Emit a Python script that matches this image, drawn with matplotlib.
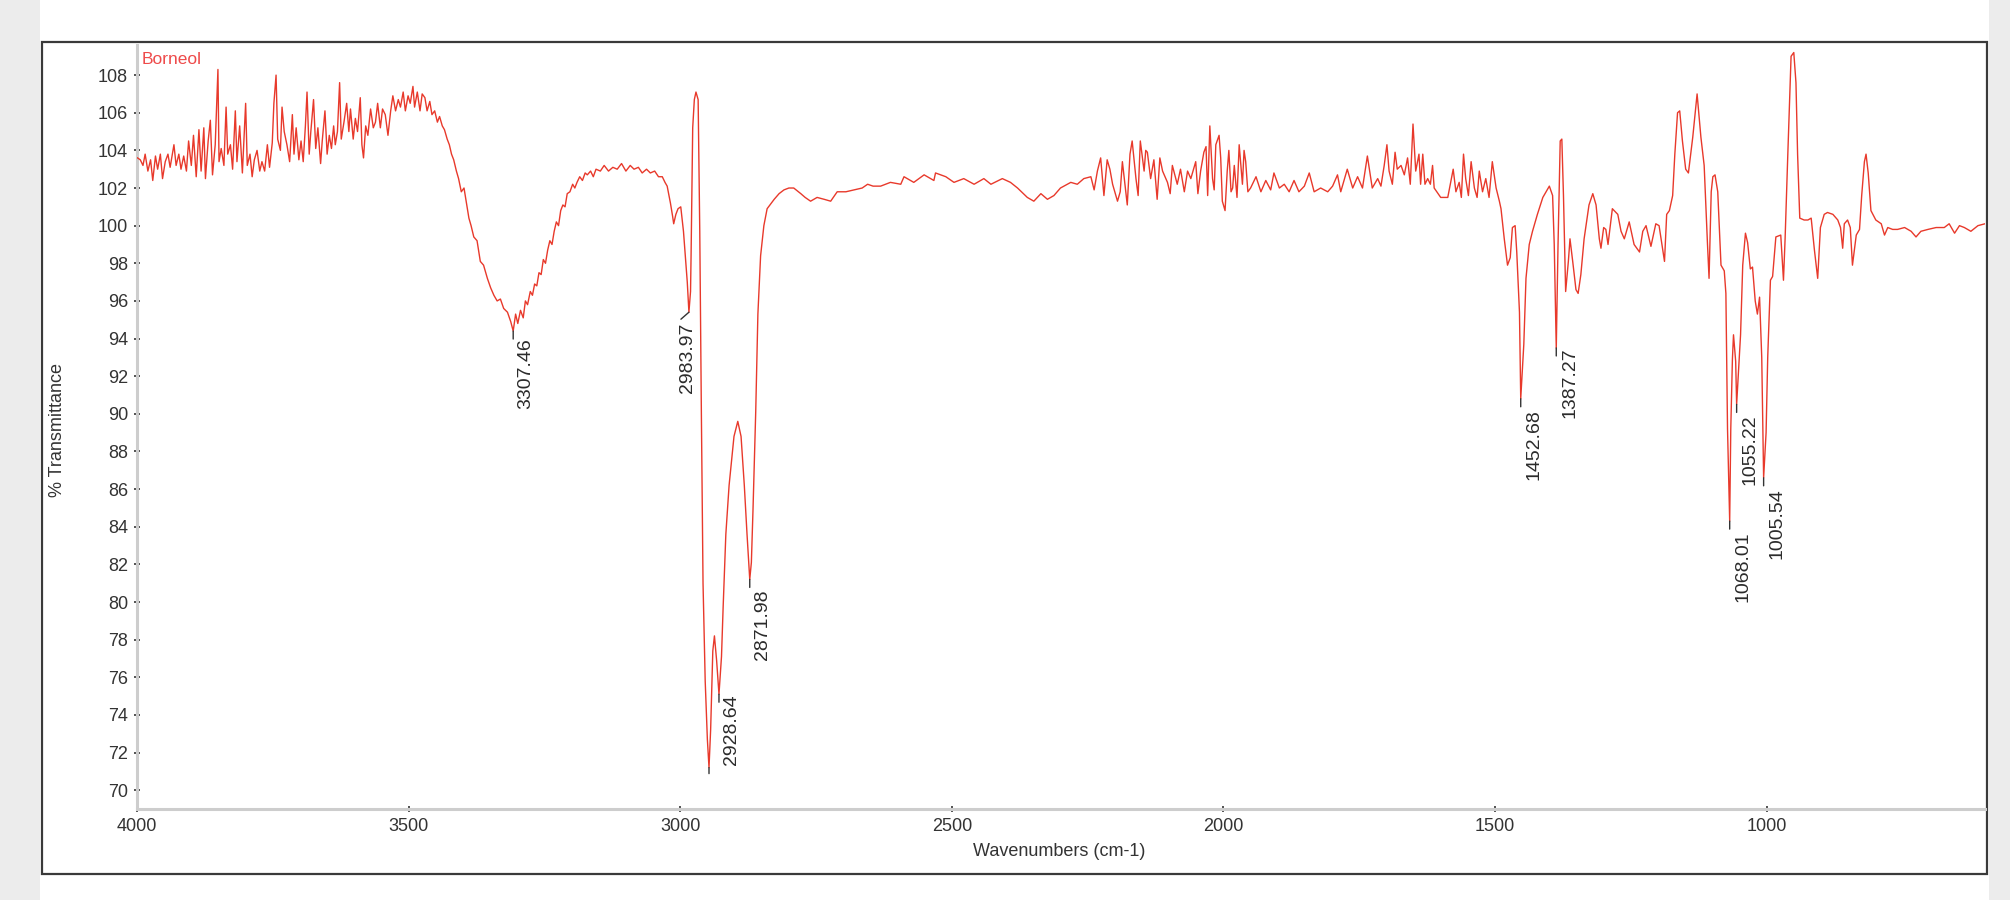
import numpy as np
import matplotlib
matplotlib.use("Agg")
import matplotlib.pyplot as plt
from matplotlib.patches import Rectangle
from matplotlib.ticker import MultipleLocator

plt.rcParams['font.family'] = ['Liberation Sans', 'DejaVu Sans']

# spectrum, split by region (wavenumber cm-1, %T)
wn_oh = [3999, 3994, 3989, 3985, 3980, 3975, 3971, 3966, 3962, 3957, 3953, 3948, 3943, 3939,
         3932, 3928, 3923, 3919, 3914, 3909, 3905, 3900, 3896, 3891, 3886, 3882, 3877, 3874,
         3869, 3865, 3861, 3856, 3851, 3849, 3845, 3840, 3836, 3833, 3828, 3824, 3819, 3816,
         3811, 3806, 3800, 3797, 3792, 3788, 3784, 3779, 3774, 3770, 3765, 3760, 3756, 3751,
         3748, 3744, 3741, 3736, 3733, 3729, 3724, 3719, 3714, 3711, 3707, 3702, 3698, 3694,
         3690, 3687, 3683, 3680, 3675, 3671, 3667, 3662, 3659, 3654, 3650, 3646, 3642, 3638,
         3635, 3631, 3627, 3624, 3619, 3614, 3610, 3607, 3602, 3598, 3594, 3589, 3586, 3583,
         3579, 3575, 3570, 3565, 3561, 3557, 3552, 3548, 3543, 3538, 3533, 3529, 3524, 3519,
         3515, 3510, 3506, 3501, 3497, 3492, 3489, 3484, 3479, 3475, 3470, 3466, 3461, 3457,
         3452, 3447, 3443, 3438, 3434, 3429, 3425, 3421, 3417, 3412, 3408, 3403, 3398, 3393,
         3389, 3385, 3380, 3374, 3368, 3362, 3355, 3349, 3343, 3337, 3331]
t_oh = [103.6, 103.5, 103.2, 103.8, 102.9, 103.5, 102.4, 103.7, 103.0, 103.8, 102.5, 103.4, 103.8, 103.1,
        104.3, 103.2, 103.8, 103.0, 103.7, 102.9, 104.5, 103.2, 104.8, 102.6, 105.1, 102.9, 105.2, 102.5,
        104.5, 105.6, 102.7, 104.3, 108.3, 103.4, 104.1, 103.2, 106.3, 103.8, 104.3, 103.0, 106.1, 103.4,
        105.3, 102.8, 106.5, 103.2, 103.8, 102.6, 103.5, 104.0, 102.9, 103.4, 102.9, 104.3, 103.1, 104.4,
        106.5, 108.0, 104.6, 104.0, 106.3, 105.0, 104.3, 103.4, 105.9, 103.8, 105.2, 103.5, 104.5, 103.4,
        105.3, 107.1, 103.8, 105.0, 106.7, 104.1, 105.2, 103.3, 104.5, 106.1, 103.8, 104.8, 104.1, 105.3,
        104.3, 105.0, 107.6, 104.6, 105.5, 106.5, 105.0, 106.2, 104.6, 105.7, 105.0, 106.8, 104.3, 103.6,
        105.3, 104.8, 106.2, 105.2, 105.5, 106.5, 105.2, 106.2, 105.9, 104.8, 106.1, 106.9, 106.1, 106.7,
        106.3, 107.1, 106.1, 106.9, 106.5, 107.4, 106.3, 107.1, 106.1, 107.0, 106.8, 106.1, 106.6, 105.9,
        106.1, 105.5, 105.8, 105.3, 105.1, 104.6, 104.3, 103.8, 103.5, 102.9, 102.5, 101.8, 102.0, 101.1,
        100.4, 100.0, 99.4, 99.2, 98.1, 97.9, 97.2, 96.7, 96.3, 96.0, 96.1]

wn_ch = [3325, 3318, 3312, 3307.46, 3303, 3299, 3294, 3289, 3285, 3281, 3276, 3272, 3268, 3264,
         3260, 3256, 3252, 3248, 3244, 3240, 3236, 3232, 3228, 3224, 3220, 3216, 3212, 3208,
         3203, 3198, 3194, 3190, 3185, 3180, 3175, 3171, 3165, 3160, 3155, 3147, 3140, 3132,
         3124, 3116, 3108, 3100, 3092, 3085, 3077, 3070, 3062, 3055, 3047, 3040, 3033, 3028,
         3024, 3018, 3014, 3012, 3008, 3004, 2999, 2994, 2990, 2987, 2983.97, 2981, 2980, 2977,
         2974, 2971, 2967, 2964, 2961, 2958, 2954, 2950, 2947, 2944, 2940, 2937, 2933, 2928.64,
         2924, 2921, 2916, 2910, 2901, 2894, 2888, 2882, 2877, 2871.98, 2869, 2866, 2861, 2857,
         2852, 2846, 2840, 2827, 2818, 2809, 2800, 2791, 2778, 2770, 2760, 2748, 2735, 2723,
         2711, 2695, 2680, 2665, 2655, 2645]
t_ch = [95.6, 95.4, 94.9, 94.4, 95.3, 94.8, 95.5, 95.1, 96.0, 95.8, 96.5, 96.3, 96.9, 96.8,
        97.5, 97.4, 98.2, 98.0, 98.7, 99.2, 99.0, 99.7, 100.2, 100.0, 100.8, 101.1, 101.0, 101.7,
        101.8, 102.2, 102.0, 102.3, 102.6, 102.4, 102.8, 102.7, 102.9, 102.6, 103.0, 102.9, 103.2, 102.9,
        103.1, 103.0, 103.3, 102.9, 103.2, 103.0, 103.1, 102.8, 103.0, 102.8, 102.9, 102.6, 102.6, 102.3,
        102.1, 101.2, 100.5, 100.1, 100.6, 100.9, 101.0, 99.7, 98.2, 97.0, 95.4, 96.5, 98.4, 105.2,
        106.7, 107.1, 106.7, 99.7, 89.9, 81.0, 75.8, 72.7, 71.2, 73.2, 77.4, 78.2, 76.9, 75.1,
        77.1, 79.7, 83.6, 86.2, 88.8, 89.6, 88.8, 86.2, 83.6, 81.2, 82.1, 84.9, 90.1, 95.3,
        98.4, 100.0, 100.9, 101.4, 101.7, 101.9, 102.0, 102.0, 101.7, 101.5, 101.3, 101.5, 101.4, 101.3,
        101.8, 101.8, 101.9, 102.0, 102.2, 102.1]

wn_mid = [2631, 2613, 2594, 2588, 2570, 2551, 2533, 2530, 2511, 2496, 2478, 2459, 2441, 2428,
          2407, 2392, 2379, 2361, 2349, 2336, 2324, 2312, 2300, 2281, 2269, 2257, 2244, 2238,
          2232, 2226, 2220, 2214, 2209, 2204, 2195, 2190, 2186, 2177, 2172, 2168, 2161, 2157,
          2153, 2146, 2143, 2140, 2134, 2128, 2122, 2117, 2112, 2103, 2098, 2094, 2085, 2079,
          2072, 2066, 2060, 2051, 2047, 2042, 2036, 2032, 2029, 2025, 2020, 2017, 2014, 2008,
          2005, 2002, 1997, 1993, 1990, 1986, 1983, 1980, 1975, 1971, 1965, 1962, 1959, 1955, 1950]
t_mid = [102.1, 102.3, 102.2, 102.6, 102.3, 102.7, 102.4, 102.8, 102.6, 102.3, 102.5, 102.2, 102.5, 102.2,
         102.5, 102.3, 102.0, 101.5, 101.3, 101.7, 101.4, 101.6, 102.0, 102.3, 102.2, 102.5, 102.6, 101.9,
         102.9, 103.6, 101.6, 103.5, 103.0, 102.2, 101.3, 101.8, 103.4, 101.1, 103.8, 104.5, 102.5, 101.6,
         104.5, 102.9, 104.0, 103.9, 102.5, 103.5, 101.4, 103.6, 102.9, 102.3, 101.7, 103.2, 102.2, 103.0,
         101.8, 102.9, 102.5, 103.4, 101.7, 102.9, 103.9, 104.2, 101.6, 105.3, 102.5, 101.9, 104.3, 104.8,
         103.6, 101.3, 100.8, 102.9, 104.0, 101.8, 102.0, 103.2, 101.5, 104.3, 102.2, 104.0, 103.4, 101.8, 102.0]

wn_fp1 = [1940, 1931, 1922, 1913, 1907, 1897, 1888, 1879, 1870, 1861, 1851, 1842, 1833, 1821,
          1808, 1799, 1790, 1784, 1772, 1762, 1753, 1744, 1735, 1726, 1716, 1710, 1704, 1699,
          1695, 1689, 1684, 1680, 1673, 1667, 1661, 1656, 1651, 1646, 1640, 1637, 1633, 1629,
          1624, 1619, 1615, 1612, 1600, 1587, 1577, 1572, 1566, 1562, 1558, 1554, 1549, 1544,
          1538, 1533, 1529, 1523, 1517, 1511, 1505, 1498, 1492, 1489, 1483, 1477, 1472, 1468,
          1463, 1460, 1455, 1452.68, 1447, 1443, 1437, 1431, 1422, 1412, 1400, 1394, 1391, 1387.27,
          1384, 1380, 1377, 1374, 1370, 1365, 1362, 1357, 1351, 1347, 1342, 1336, 1327, 1320,
          1314, 1308, 1305, 1300, 1296, 1292, 1284, 1274, 1268]
t_fp1 = [102.6, 101.8, 102.4, 101.9, 102.8, 102.0, 102.2, 101.8, 102.4, 101.8, 102.1, 102.8, 101.8, 102.0,
         101.8, 102.1, 102.7, 101.8, 103.0, 102.0, 102.6, 102.0, 103.7, 102.0, 102.5, 102.1, 103.2, 104.3,
         102.9, 102.2, 103.9, 103.0, 103.2, 102.7, 103.6, 102.2, 105.4, 102.9, 103.8, 102.2, 103.8, 102.2,
         102.5, 102.2, 103.2, 102.0, 101.5, 101.5, 103.0, 101.8, 102.3, 101.5, 103.8, 102.5, 101.6, 103.4,
         102.0, 101.5, 102.9, 101.8, 102.5, 101.5, 103.4, 102.0, 101.3, 100.9, 99.3, 97.9, 98.3, 99.9,
         100.0, 98.6, 95.4, 90.8, 93.7, 97.2, 99.0, 99.7, 100.6, 101.5, 102.1, 101.6, 99.0, 93.5,
         99.0, 104.5, 104.6, 101.6, 96.5, 98.1, 99.3, 98.1, 96.6, 96.4, 97.4, 99.3, 101.1, 101.7,
         101.1, 99.3, 98.8, 99.9, 99.8, 99.0, 100.9, 100.6, 99.7]

wn_fp2 = [1262, 1253, 1244, 1234, 1228, 1222, 1213, 1204, 1198, 1188, 1184, 1179, 1173, 1169,
          1164, 1160, 1155, 1149, 1144, 1136, 1128, 1121, 1115, 1109, 1106, 1102, 1099, 1095,
          1090, 1084, 1078, 1075, 1072, 1068.01, 1066, 1063, 1061, 1057, 1055.22, 1048, 1044, 1039,
          1035, 1030, 1026, 1021, 1017, 1013, 1009, 1005.54, 1001, 998, 993, 989, 983, 974,
          969, 966, 961, 955, 950, 946, 943, 939, 931, 924, 918, 912, 906, 901,
          894, 888, 878, 869, 864, 860, 857, 851, 846, 842, 835, 829, 825, 820,
          817, 813, 808, 799, 789, 783, 777, 768, 759, 746, 734, 725, 716, 703,
          688, 673, 664, 654, 645, 636, 624, 611, 598]
t_fp2 = [99.3, 100.2, 99.0, 98.6, 99.7, 100.0, 98.9, 100.1, 100.0, 98.1, 100.6, 100.8, 101.6, 103.8,
         106.0, 106.1, 104.5, 103.0, 102.8, 104.7, 107.0, 104.7, 103.2, 99.1, 97.2, 101.8, 102.6, 102.7,
         101.8, 97.9, 97.6, 96.4, 89.2, 84.3, 89.2, 92.9, 94.2, 92.8, 90.5, 94.2, 97.9, 99.6,
         99.1, 97.7, 97.8, 96.0, 95.3, 96.2, 93.0, 86.6, 89.0, 93.0, 97.1, 97.3, 99.4, 99.5,
         97.1, 99.3, 103.8, 109.0, 109.2, 107.6, 103.8, 100.4, 100.3, 100.3, 100.4, 98.7, 97.2, 99.9,
         100.6, 100.7, 100.6, 100.3, 99.9, 98.8, 100.1, 100.3, 99.9, 97.9, 99.5, 99.8, 101.6, 103.4,
         103.8, 102.8, 100.8, 100.3, 100.1, 99.5, 99.9, 99.8, 99.8, 99.9, 99.7, 99.4, 99.7, 99.8,
         99.9, 99.9, 100.1, 99.6, 100.0, 99.9, 99.7, 100.0, 100.1]

# labelled peaks
peak_wn = [3307.46, 2983.97, 2928.64, 2871.98, 1452.68, 1387.27, 1068.01, 1055.22, 1005.54]
# unlabelled pick mark at the strongest band
mark_wn = [2947]

sample_name = "Borneol"

wn = np.array(wn_oh + wn_ch + wn_mid + wn_fp1 + wn_fp2)
tr = np.array(t_oh + t_ch + t_mid + t_fp1 + t_fp2)

W, H = 2010, 900
fig = plt.figure(figsize=(W / 100, H / 100), dpi=100, facecolor='#ececec')

# white panel + dark frame like the spectrum viewer window
fig.patches.append(Rectangle((40 / W, 0), (1989 - 40) / W, 1, transform=fig.transFigure,
                             facecolor='white', edgecolor='none', zorder=-2))
fig.patches.append(Rectangle((42 / W, 26 / H), (1987 - 42) / W, (874 - 42) / H,
                             transform=fig.transFigure, facecolor='none',
                             edgecolor='#3a3a3a', lw=1.6, zorder=-1))

ax = fig.add_axes([137 / W, 91 / H, 1848 / W, 764 / H])
ax.set_facecolor('none')
ax.plot(wn, tr, color='#e8392b', lw=1.0, zorder=3)

ax.set_xlim(4000, 598)
ax.set_ylim(69.0, 109.6)

for s in ['top', 'right']:
    ax.spines[s].set_visible(False)
for s in ['left', 'bottom']:
    ax.spines[s].set_color('#cdcdcd')
    ax.spines[s].set_linewidth(2.2)

ax.xaxis.set_major_locator(MultipleLocator(500))
ax.xaxis.set_minor_locator(MultipleLocator(100))
ax.yaxis.set_major_locator(MultipleLocator(2))
ax.yaxis.set_minor_locator(MultipleLocator(0.5))
ax.tick_params(which='major', direction='inout', length=5, width=1.2, color='#333333',
               labelsize=13, labelcolor='#333333', pad=4)
ax.tick_params(which='minor', direction='inout', length=2, width=1.4, color='#111111')

fig.text(58 / W, 1 - 430 / H, '% Transmittance', rotation=90, ha='center', va='center',
         fontsize=13, color='#333333')
fig.text(1059 / W, 1 - 852 / H, 'Wavenumbers (cm-1)', ha='center', va='center',
         fontsize=13, color='#333333')
fig.text(142 / W, 1 - 60 / H, sample_name, ha='left', va='center', fontsize=12.5,
         color='#ee4a4a')

# peak labels: leader below the pick, rotated text to its right
px = 0.72  # points per pixel at 100 dpi
wn_inc, tr_inc = wn[::-1], tr[::-1]
label_shift = {3307.46: (13, 7), 2983.97: (-1, 10), 2928.64: (13, 0), 1387.27: (14, -1)}
for p in peak_wn:
    t = np.interp(p, wn_inc, tr_inc)
    lead = (-8, 7) if p == 2983.97 else (0, 8)
    ax.annotate('', xy=(p, t), xytext=(lead[0] * px, -lead[1] * px), textcoords='offset points',
                arrowprops=dict(arrowstyle='-', color='#333333', lw=1.0, shrinkA=0, shrinkB=0))
    dx, dy = label_shift.get(p, (13, 10))
    ax.annotate('%.2f' % p, xy=(p, t), xytext=(dx * px, -dy * px), textcoords='offset points',
                rotation=90, ha='center', va='top', fontsize=14, color='#2b2b2b')

for p in mark_wn:
    t = np.interp(p, wn_inc, tr_inc)
    ax.annotate('', xy=(p, t), xytext=(0, -6 * px), textcoords='offset points',
                arrowprops=dict(arrowstyle='-', color='#333333', lw=1.0, shrinkA=0, shrinkB=0))

fig.savefig('out.png', dpi=100, facecolor=fig.get_facecolor())
